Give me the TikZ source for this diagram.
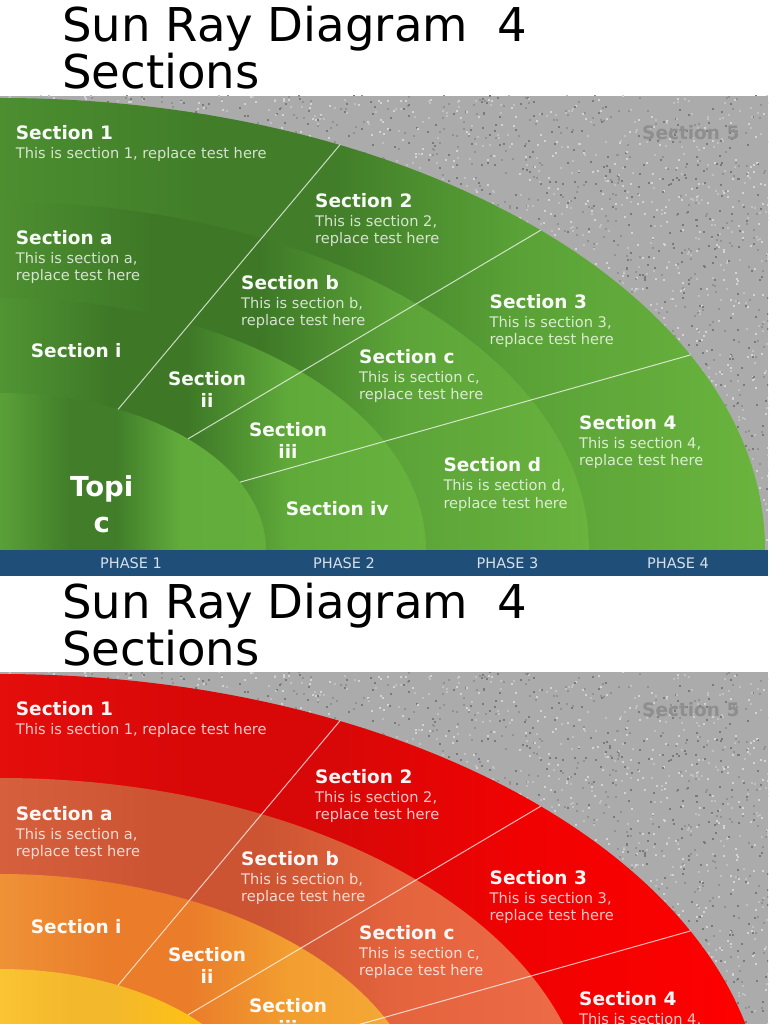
\documentclass[tikz,border=0pt]{standalone}
\usepackage{fontspec}
\setmainfont{DejaVu Sans}

% ---------- colours ----------
\definecolor{noisebase}{HTML}{ABABAB}
\definecolor{noise1}{HTML}{7A7A7A}
\definecolor{noise2}{HTML}{D2D2D2}
\definecolor{noise3}{HTML}{929292}
\definecolor{noise4}{HTML}{C0C0C0}
\definecolor{secfive}{HTML}{8E8E8E}
\definecolor{barblue}{HTML}{1F4E79}
\definecolor{phasetext}{HTML}{D6E0EA}

\definecolor{gr1L}{RGB}{76,142,48}  \definecolor{gr1D}{RGB}{66,126,41}
\definecolor{gr1M}{RGB}{90,162,55}  \definecolor{gr1R}{RGB}{106,180,62}
\definecolor{gr2L}{RGB}{78,143,49}  \definecolor{gr2D}{RGB}{62,120,39}
\definecolor{gr2M}{RGB}{92,164,56}  \definecolor{gr2R}{RGB}{105,179,62}
\definecolor{gr3L}{RGB}{80,148,51}  \definecolor{gr3D}{RGB}{62,120,39}
\definecolor{gr3M}{RGB}{96,170,58}  \definecolor{gr3R}{RGB}{104,178,62}
\definecolor{gr4L}{RGB}{90,160,56}  \definecolor{gr4D}{RGB}{66,126,42}
\definecolor{gr4M}{RGB}{98,172,60}  \definecolor{gr4R}{RGB}{100,174,60}

\definecolor{rr1L}{RGB}{228,14,12}  \definecolor{rr1D}{RGB}{216,8,8}
\definecolor{rr1M}{RGB}{240,2,2}    \definecolor{rr1R}{RGB}{255,0,0}
\definecolor{rr2L}{RGB}{214,96,62}  \definecolor{rr2D}{RGB}{204,84,50}
\definecolor{rr2M}{RGB}{228,100,62} \definecolor{rr2R}{RGB}{238,108,72}
\definecolor{rr3L}{RGB}{238,146,54} \definecolor{rr3D}{RGB}{234,124,42}
\definecolor{rr3M}{RGB}{242,158,48} \definecolor{rr3R}{RGB}{246,172,56}
\definecolor{rr4L}{RGB}{250,196,52} \definecolor{rr4D}{RGB}{244,184,44}
\definecolor{rr4M}{RGB}{252,192,24} \definecolor{rr4R}{RGB}{255,192,0}

% ---------- shadings (bbox maps to 25bp..75bp; x=0 at 50bp) ----------
\newcommand\rsShade[1]{%
  \pgfdeclarehorizontalshading{#1ring}{100bp}{%
    color(0bp)=(#1L); color(50bp)=(#1L); color(56.5bp)=(#1D);
    color(61bp)=(#1D); color(67bp)=(#1M); color(75bp)=(#1R);
    color(100bp)=(#1R)}}
\rsShade{gr1}\rsShade{gr2}\rsShade{gr3}\rsShade{gr4}
\rsShade{rr1}\rsShade{rr2}\rsShade{rr3}\rsShade{rr4}

% ---------- noise speckles in the grey area outside the outer ellipse ----------
\newcommand\rsNoise{%
  \pgfmathsetseed{20240}%
  \foreach \k in {1,...,4200}{%
    \pgfmathsetmacro\rsT{rnd*90}%
    \pgfmathsetmacro\rsS{sqrt(1+rnd*1.03)}%
    \pgfmathtruncatemacro\rsG{random(1,4)}%
    \fill[noise\rsG] ({765*\rsS*cos(\rsT)},{550-452*\rsS*sin(\rsT)}) rectangle ++(2,2);
  }}

% ---------- text block: title + two description lines ----------
\newcommand\rsBlock[6]{%
  \node[sectitle] (#1t) at (#2,#3) {#4};
  \node[secdesc]  (#1a) at (#2,#3+19.2) {#5};
  \node[secdesc]  (#1b) at (#2,#3+36.4) {#6};}

% ---------- one complete panel ----------
\newcommand\rsPanel[1]{%
  % title
  \node[titlef] (#1ti1) at (62,42) {Sun Ray Diagram~~4};
  \node[titlef] (#1ti2) at (62,89) {Sections};
  \begin{scope}
    \clip (0,96) rectangle (768,550);
    \fill[noisebase] (0,96) rectangle (768,550);
    \rsNoise
    \node[secfivef] (#1s5) at (642,140) {Section 5};
    \path[shading=#1r1ring] (0,550) ellipse [x radius=765pt, y radius=452pt];
    \path[shading=#1r2ring] (0,550) ellipse [x radius=589pt, y radius=348pt];
    \path[shading=#1r3ring] (0,550) ellipse [x radius=426pt, y radius=252pt];
    \path[shading=#1r4ring] (0,550) ellipse [x radius=266pt, y radius=157pt];
    \coordinate (#1r1in)  at (118.1,409.3);
    \coordinate (#1r1out) at (339.8,145.0);
    \coordinate (#1r2in)  at (187.9,438.9);
    \coordinate (#1r2out) at (540.7,230.2);
    \coordinate (#1r3in)  at (239.9,482.2);
    \coordinate (#1r3out) at (690.2,355.0);
    \draw[rayline] (#1r1in) -- (#1r1out);
    \draw[rayline] (#1r2in) -- (#1r2out);
    \draw[rayline] (#1r3in) -- (#1r3out);
  \end{scope}
  % outer ring texts
  \node[sectitle] (#1s1t) at (15.7,139.3) {Section 1};
  \node[secdesc]  (#1s1a) at (15.7,158.5) {This is section 1, replace test here};
  \rsBlock{#1s2}{315}{207.5}{Section 2}{This is section 2,}{replace test here}
  \rsBlock{#1s3}{489.5}{308.3}{Section 3}{This is section 3,}{replace test here}
  \rsBlock{#1s4}{579}{429.3}{Section 4}{This is section 4,}{replace test here}
  % second ring texts
  \rsBlock{#1sa}{15.7}{244.3}{Section a}{This is section a,}{replace test here}
  \rsBlock{#1sb}{241}{289}{Section b}{This is section b,}{replace test here}
  \rsBlock{#1sc}{359}{363.3}{Section c}{This is section c,}{replace test here}
  \rsBlock{#1sd}{443.3}{471.7}{Section d}{This is section d,}{replace test here}
  % third ring texts
  \node[sectitle] (#1si) at (30.7,357.3) {Section i};
  \node[secmid] (#1siia) at (207,385) {Section};
  \node[secmid] (#1siib) at (207,407.5) {ii};
  \node[secmid] (#1siiia) at (288,436) {Section};
  \node[secmid] (#1siiib) at (288,458.5) {iii};
  \node[sectitle] (#1siv) at (285.7,515) {Section iv};
  % centre
  \node[topicf] (#1tpa) at (101.7,496.7) {Topi};
  \node[topicf] (#1tpb) at (101.7,532.7) {c};
  % phase bar
  \fill[barblue] (0,550) rectangle (768,576);
  \node[phasef] (#1p1) at (131,568.5) {PHASE 1};
  \node[phasef] (#1p2) at (344,568.5) {PHASE 2};
  \node[phasef] (#1p3) at (507.5,568.5) {PHASE 3};
  \node[phasef] (#1p4) at (678,568.5) {PHASE 4};
}

\begin{document}
\begin{tikzpicture}[x=1pt,y=-1pt,
  titlef/.style={font=\fontsize{46.6}{50}\selectfont, text=black, anchor=base west, inner sep=0pt},
  sectitle/.style={font=\fontsize{18.5}{22}\selectfont\bfseries, text=white, text opacity=0.96, anchor=base west, inner sep=0pt},
  secdesc/.style={font=\fontsize{14.6}{17}\selectfont, text=white, text opacity=0.78, anchor=base west, inner sep=0pt},
  secmid/.style={font=\fontsize{18.5}{22}\selectfont\bfseries, text=white, text opacity=0.96, anchor=base, inner sep=0pt},
  topicf/.style={font=\fontsize{27.5}{32}\selectfont\bfseries, text=white, anchor=base, inner sep=0pt},
  secfivef/.style={font=\fontsize{18.5}{22}\selectfont\bfseries, text=secfive, anchor=base west, inner sep=0pt},
  phasef/.style={font=\fontsize{14.5}{17}\selectfont, text=phasetext, anchor=base, inner sep=0pt},
  rayline/.style={draw=white, draw opacity=0.72, line width=1pt}]
  \useasboundingbox (0,0) rectangle (768,1024);
  \clip (0,0) rectangle (768,1024);
  \fill[white] (0,0) rectangle (768,1024);
  \rsPanel{g}
  \begin{scope}[yshift=-576pt]
    \rsPanel{r}
  \end{scope}
\end{tikzpicture}
\end{document}
